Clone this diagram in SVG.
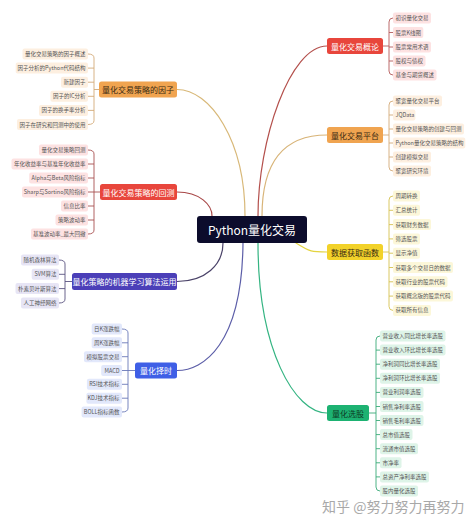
<svg xmlns="http://www.w3.org/2000/svg" width="474" height="520" viewBox="0 0 474 520">
<style>
text{font-family:"Noto Sans CJK SC","Noto Sans",sans-serif;dominant-baseline:central}
.c{font-size:5.5px;fill:#555}
.r{text-anchor:start}
.l{text-anchor:end}
.b{font-size:8px;text-anchor:middle}
.w{fill:#fff}
.d{fill:#3a2a12}
.ln{fill:none;stroke-width:1.2;stroke-linecap:round}
.br{fill:none;stroke-width:0.9}
.pk{fill:#fde2e2}.or{fill:#fdefe0}.ye{fill:#fcf7d9}.gr{fill:#def4e8}.lp{fill:#e7e5f5}.lb{fill:#e2e8fb}
</style>
<rect width="474" height="520" fill="#fff"/>
<g id="connectors">
<path class="ln" stroke="#b4504c" d="M258,216 C258,140 290,46 327,46"/>
<path class="ln" stroke="#d8b478" d="M262,216 C262,160 285,135 327,135"/>
<path class="ln" stroke="#e4d440" d="M296,243 C310,252 312,252 327,252"/>
<path class="ln" stroke="#34b482" d="M258,243 C258,350 295,413 327,413"/>
<path class="ln" stroke="#d8b878" d="M177,89.5 C210,89.5 245,140 245,216"/>
<path class="ln" stroke="#a84848" d="M177,192 C200,192 212,205 212,216"/>
<path class="ln" stroke="#4a4268" d="M177,281.5 C205,281.5 223,265 223,243"/>
<path class="ln" stroke="#5c5ea8" d="M177,370.5 C203,370.5 242,345 243,243"/>
<g stroke="#b45a5a" class="br"><path d="M383,46H389M393,18Q389,18 389,22V71Q389,75 393,75M389,32.5H393M389,47H393M389,61H393"/></g>
<g stroke="#d4aa78" class="br"><path d="M383,135H389M393,101Q389,101 389,105V167Q389,171 393,171M389,115H393M389,129H393M389,143H393M389,157H393"/></g>
<g stroke="#d6c250" class="br"><path d="M383,252H389M393,196Q389,196 389,200V306.4Q389,310.4 393,310.4M389,210.3H393M389,224.6H393M389,238.9H393M389,253.2H393M389,267.5H393M389,281.8H393M389,296.1H393"/></g>
<g stroke="#3aaa78" class="br"><path d="M369,413H376M380,336Q376,336 376,340V487Q376,491 380,491M376,350.1H380M376,364.2H380M376,378.3H380M376,392.4H380M376,406.5H380M376,420.5H380M376,434.6H380M376,448.7H380M376,462.8H380M376,476.9H380"/></g>
<g stroke="#d4aa78" class="br"><path d="M99,89.5H94M88,54Q94,54 94,58V120.5Q94,124.5 88,124.5M94,68.1H88M94,82.2H88M94,96.3H88M94,110.4H88"/></g>
<g stroke="#a85050" class="br"><path d="M100,192H94M88,150Q94,150 94,154V230Q94,234 88,234M94,164H88M94,178H88M94,192H88M94,206H88M94,220H88"/></g>
<g stroke="#5a5480" class="br"><path d="M72,281.5H65M59,260Q65,260 65,264V299Q65,303 59,303M65,274.3H59M65,288.6H59"/></g>
<g stroke="#6a78b8" class="br"><path d="M135,370.5H128M122,329Q128,329 128,333V408Q128,412 122,412M128,342.8H122M128,356.7H122M128,370.5H122M128,384.3H122M128,398.2H122"/></g>
</g>
<g id="root"><rect x="197" y="216" width="110" height="27" rx="3" fill="#0c0c2c"/><text x="252" y="229.5" font-size="12" text-anchor="middle" fill="#fff">Python量化交易</text></g>
<g id="n-gailun"><rect x="327" y="38" width="56" height="16" rx="2.5" fill="#e8463c"/><text class="b w" x="355" y="46">量化交易概论</text></g>
<g id="n-gailun-1"><rect class="pk" x="393" y="12.5" width="38" height="11" rx="2"/><text class="c r" x="395.5" y="18">初识量化交易</text></g>
<g id="n-gailun-2"><rect class="pk" x="393" y="27" width="30.3" height="11" rx="2"/><text class="c r" x="395.5" y="32.5">股票K线图</text></g>
<g id="n-gailun-3"><rect class="pk" x="393" y="41.5" width="38" height="11" rx="2"/><text class="c r" x="395.5" y="47">股票常用术语</text></g>
<g id="n-gailun-4"><rect class="pk" x="393" y="55.5" width="32.5" height="11" rx="2"/><text class="c r" x="395.5" y="61">股权与债权</text></g>
<g id="n-gailun-5"><rect class="pk" x="393" y="69.5" width="43.5" height="11" rx="2"/><text class="c r" x="395.5" y="75">基金与期货概述</text></g>
<g id="n-pingtai"><rect x="327" y="127" width="56" height="16" rx="2.5" fill="#f0a450"/><text class="b d" x="355" y="135">量化交易平台</text></g>
<g id="n-pingtai-1"><rect class="or" x="393" y="95.5" width="49" height="11" rx="2"/><text class="c r" x="395.5" y="101">聚宽量化交易平台</text></g>
<g id="n-pingtai-2"><rect class="or" x="393" y="109.5" width="22.4" height="11" rx="2"/><text class="c r" x="395.5" y="115">JQData</text></g>
<g id="n-pingtai-3"><rect class="or" x="393" y="123.5" width="71" height="11" rx="2"/><text class="c r" x="395.5" y="129">量化交易策略的创建与回测</text></g>
<g id="n-pingtai-4"><rect class="or" x="393" y="137.5" width="72.3" height="11" rx="2"/><text class="c r" x="395.5" y="143">Python量化交易策略的结构</text></g>
<g id="n-pingtai-5"><rect class="or" x="393" y="151.5" width="38" height="11" rx="2"/><text class="c r" x="395.5" y="157">创建模拟交易</text></g>
<g id="n-pingtai-6"><rect class="or" x="393" y="165.5" width="38" height="11" rx="2"/><text class="c r" x="395.5" y="171">聚宽研究环境</text></g>
<g id="n-shuju"><rect x="327" y="244" width="56" height="16" rx="2.5" fill="#f2d22a"/><text class="b d" x="355" y="252">数据获取函数</text></g>
<g id="n-shuju-1"><rect class="ye" x="393" y="190.5" width="27" height="11" rx="2"/><text class="c r" x="395.5" y="196">周期转换</text></g>
<g id="n-shuju-2"><rect class="ye" x="393" y="204.8" width="27" height="11" rx="2"/><text class="c r" x="395.5" y="210.3">汇总统计</text></g>
<g id="n-shuju-3"><rect class="ye" x="393" y="219.1" width="38" height="11" rx="2"/><text class="c r" x="395.5" y="224.6">获取财务数据</text></g>
<g id="n-shuju-4"><rect class="ye" x="393" y="233.4" width="27" height="11" rx="2"/><text class="c r" x="395.5" y="238.9">筛选股票</text></g>
<g id="n-shuju-5"><rect class="ye" x="393" y="247.7" width="27" height="11" rx="2"/><text class="c r" x="395.5" y="253.2">显示净值</text></g>
<g id="n-shuju-6"><rect class="ye" x="393" y="262" width="60" height="11" rx="2"/><text class="c r" x="395.5" y="267.5">获取多个交易日的数据</text></g>
<g id="n-shuju-7"><rect class="ye" x="393" y="276.3" width="54.5" height="11" rx="2"/><text class="c r" x="395.5" y="281.8">获取行业的股票代码</text></g>
<g id="n-shuju-8"><rect class="ye" x="393" y="290.6" width="60" height="11" rx="2"/><text class="c r" x="395.5" y="296.1">获取概念版的股票代码</text></g>
<g id="n-shuju-9"><rect class="ye" x="393" y="304.9" width="38" height="11" rx="2"/><text class="c r" x="395.5" y="310.4">获取所有信息</text></g>
<g id="n-xuangu"><rect x="327" y="405" width="42" height="16" rx="2.5" fill="#1db272"/><text class="b" x="348" y="413" fill="#0d3a25">量化选股</text></g>
<g id="n-xuangu-1"><rect class="gr" x="380" y="330.5" width="65.5" height="11" rx="2"/><text class="c r" x="382.5" y="336">营业收入同比增长率选股</text></g>
<g id="n-xuangu-2"><rect class="gr" x="380" y="344.6" width="65.5" height="11" rx="2"/><text class="c r" x="382.5" y="350.1">营业收入环比增长率选股</text></g>
<g id="n-xuangu-3"><rect class="gr" x="380" y="358.7" width="60" height="11" rx="2"/><text class="c r" x="382.5" y="364.2">净利润同比增长率选股</text></g>
<g id="n-xuangu-4"><rect class="gr" x="380" y="372.8" width="60" height="11" rx="2"/><text class="c r" x="382.5" y="378.3">净利润环比增长率选股</text></g>
<g id="n-xuangu-5"><rect class="gr" x="380" y="386.9" width="43.5" height="11" rx="2"/><text class="c r" x="382.5" y="392.4">营业利润率选股</text></g>
<g id="n-xuangu-6"><rect class="gr" x="380" y="401" width="43.5" height="11" rx="2"/><text class="c r" x="382.5" y="406.5">销售净利率选股</text></g>
<g id="n-xuangu-7"><rect class="gr" x="380" y="415" width="43.5" height="11" rx="2"/><text class="c r" x="382.5" y="420.5">销售毛利率选股</text></g>
<g id="n-xuangu-8"><rect class="gr" x="380" y="429.1" width="32.5" height="11" rx="2"/><text class="c r" x="382.5" y="434.6">总市值选股</text></g>
<g id="n-xuangu-9"><rect class="gr" x="380" y="443.2" width="38" height="11" rx="2"/><text class="c r" x="382.5" y="448.7">流通市值选股</text></g>
<g id="n-xuangu-10"><rect class="gr" x="380" y="457.3" width="21.5" height="11" rx="2"/><text class="c r" x="382.5" y="462.8">市净率</text></g>
<g id="n-xuangu-11"><rect class="gr" x="380" y="471.4" width="49" height="11" rx="2"/><text class="c r" x="382.5" y="476.9">总资产净利率选股</text></g>
<g id="n-xuangu-12"><rect class="gr" x="380" y="485.5" width="38" height="11" rx="2"/><text class="c r" x="382.5" y="491">股内量化选股</text></g>
<g id="n-yinzi"><rect x="99" y="81.5" width="78" height="16" rx="2.5" fill="#f0a450"/><text class="b d" x="138" y="89.5">量化交易策略的因子</text></g>
<g id="n-yinzi-1"><rect class="or" x="22.5" y="48.5" width="65.5" height="11" rx="2"/><text class="c l" x="85.5" y="54">量化交易策略的因子概述</text></g>
<g id="n-yinzi-2"><rect class="or" x="15.7" y="62.6" width="72.3" height="11" rx="2"/><text class="c l" x="85.5" y="68.1">因子分析的Python代码结构</text></g>
<g id="n-yinzi-3"><rect class="or" x="61" y="76.7" width="27" height="11" rx="2"/><text class="c l" x="85.5" y="82.2">新建因子</text></g>
<g id="n-yinzi-4"><rect class="or" x="50.4" y="90.8" width="37.6" height="11" rx="2"/><text class="c l" x="85.5" y="96.3">因子的IC分析</text></g>
<g id="n-yinzi-5"><rect class="or" x="39" y="104.9" width="49" height="11" rx="2"/><text class="c l" x="85.5" y="110.4">因子的换手率分析</text></g>
<g id="n-yinzi-6"><rect class="or" x="17" y="119" width="71" height="11" rx="2"/><text class="c l" x="85.5" y="124.5">因子在研究和回测中的使用</text></g>
<g id="n-huice"><rect x="100" y="184" width="77" height="16" rx="2.5" fill="#e8463c"/><text class="b w" x="138.5" y="192">量化交易策略的回测</text></g>
<g id="n-huice-1"><rect class="pk" x="39" y="144.5" width="49" height="11" rx="2"/><text class="c l" x="85.5" y="150">量化交易策略回测</text></g>
<g id="n-huice-2"><rect class="pk" x="11.5" y="158.5" width="76.5" height="11" rx="2"/><text class="c l" x="85.5" y="164">年化收益率与基准年化收益率</text></g>
<g id="n-huice-3"><rect class="pk" x="29.2" y="172.5" width="58.8" height="11" rx="2"/><text class="c l" x="85.5" y="178">Alpha与Beta风险指标</text></g>
<g id="n-huice-4"><rect class="pk" x="22" y="186.5" width="66" height="11" rx="2"/><text class="c l" x="85.5" y="192">Sharp与Sortino风险指标</text></g>
<g id="n-huice-5"><rect class="pk" x="61" y="200.5" width="27" height="11" rx="2"/><text class="c l" x="85.5" y="206">信息比率</text></g>
<g id="n-huice-6"><rect class="pk" x="55.5" y="214.5" width="32.5" height="11" rx="2"/><text class="c l" x="85.5" y="220">策略波动率</text></g>
<g id="n-huice-7"><rect class="pk" x="31" y="228.5" width="57" height="11" rx="2"/><text class="c l" x="85.5" y="234">基准波动率_最大回撤</text></g>
<g id="n-jiqi"><rect x="72" y="273" width="105" height="17" rx="2.5" fill="#4b3fb8"/><text class="b w" x="124.5" y="281.5">量化策略的机器学习算法运用</text></g>
<g id="n-jiqi-1"><rect class="lp" x="21" y="254.5" width="38" height="11" rx="2"/><text class="c l" x="56.5" y="260">随机森林算法</text></g>
<g id="n-jiqi-2"><rect class="lp" x="31.7" y="268.8" width="27.3" height="11" rx="2"/><text class="c l" x="56.5" y="274.3">SVM算法</text></g>
<g id="n-jiqi-3"><rect class="lp" x="15.5" y="283.1" width="43.5" height="11" rx="2"/><text class="c l" x="56.5" y="288.6">朴素贝叶斯算法</text></g>
<g id="n-jiqi-4"><rect class="lp" x="21" y="297.5" width="38" height="11" rx="2"/><text class="c l" x="56.5" y="303">人工神经网络</text></g>
<g id="n-zeshi"><rect x="135" y="362.5" width="42" height="16" rx="2.5" fill="#3f5fe6"/><text class="b w" x="156" y="370.5">量化择时</text></g>
<g id="n-zeshi-1"><rect class="lb" x="91.7" y="323.5" width="30.3" height="11" rx="2"/><text class="c l" x="119.5" y="329">日K涨跌幅</text></g>
<g id="n-zeshi-2"><rect class="lb" x="91.7" y="337.3" width="30.3" height="11" rx="2"/><text class="c l" x="119.5" y="342.8">周K涨跌幅</text></g>
<g id="n-zeshi-3"><rect class="lb" x="84" y="351.2" width="38" height="11" rx="2"/><text class="c l" x="119.5" y="356.7">模拟股票交易</text></g>
<g id="n-zeshi-4"><rect class="lb" x="101.2" y="365" width="20.8" height="11" rx="2"/><text class="c l" x="119.5" y="370.5">MACD</text></g>
<g id="n-zeshi-5"><rect class="lb" x="86.9" y="378.8" width="35.1" height="11" rx="2"/><text class="c l" x="119.5" y="384.3">RSI技术指标</text></g>
<g id="n-zeshi-6"><rect class="lb" x="86.4" y="392.7" width="35.6" height="11" rx="2"/><text class="c l" x="119.5" y="398.2">KDJ技术指标</text></g>
<g id="n-zeshi-7"><rect class="lb" x="81.6" y="406.5" width="40.4" height="11" rx="2"/><text class="c l" x="119.5" y="412">BOLL指标函数</text></g>
<text x="322" y="506" font-size="14" fill="#9a9a9a" opacity="0.85">知乎 @努力努力再努力</text>
</svg>
